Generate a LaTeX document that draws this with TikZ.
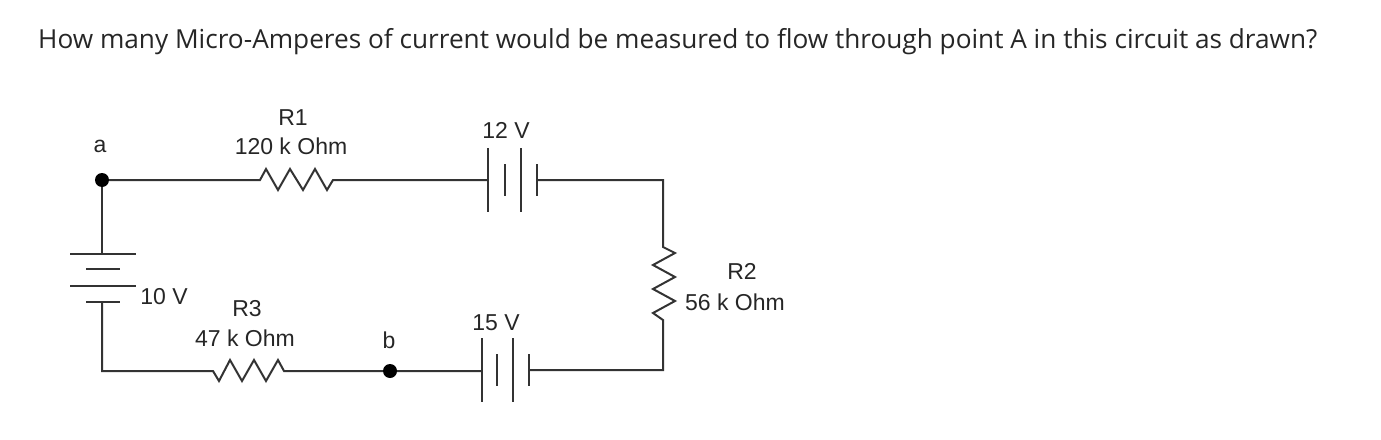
\documentclass[tikz,border=0pt]{standalone}
\usepackage{fontspec}
\setmainfont{Liberation Sans}
\newfontfamily\titlefont{Open Sans}
\begin{document}
\begin{tikzpicture}[x=1pt,y=-1pt,
  wire/.style={line width=2pt,color=black!80},
  lbl/.style={inner sep=0pt,font=\fontsize{23}{25}\selectfont,text=black!85},
  dot/.style={circle,fill=black,inner sep=0pt,minimum size=14pt}]
\useasboundingbox (0,0) rectangle (1381,439);
\node[inner sep=0pt,anchor=west,font=\titlefont\fontsize{26.2}{30}\selectfont,text=black!85] (title) at (38,42) {How many Micro-Amperes of current would be measured to flow through point A in this circuit as drawn?};
\node[dot] (a) at (102,180) {};
\node[dot] (b) at (390,371) {};
\coordinate (tr) at (663,180);
\coordinate (br) at (663,370);
\coordinate (bl) at (102,371);
% top wire with R1 and 12V
\draw[wire] (a) -- (260,180) -- (266,169) -- (278,190) -- (290,169) -- (303,190) -- (315,169) -- (327,190) -- (333,180) -- (488,180);
\draw[wire] (488,148) -- (488,212) (505,164) -- (505,196) (521,148) -- (521,212) (537,164) -- (537,196);
\draw[wire] (537,180) -- (tr) -- (663,247) -- (675,253) -- (653,265) -- (675,277) -- (653,289) -- (675,301) -- (653,313) -- (663,320) -- (br) -- (529,370);
\draw[wire] (482,338) -- (482,402) (497,354) -- (497,386) (513,338) -- (513,402) (529,354) -- (529,386);
\draw[wire] (482,371) -- (b) -- (284,371) -- (278,360) -- (266,381) -- (254,360) -- (242,381) -- (230,360) -- (219,381) -- (213,371) -- (bl) -- (102,302);
\draw[wire] (86,302) -- (120,302) (70,286) -- (136,286) (86,269) -- (120,269) (70,254) -- (136,254);
\draw[wire] (102,254) -- (a);
\node[lbl] (la) at (100,146) {a};
\node[lbl] (lr1) at (293,118) {R1};
\node[lbl] (lr1v) at (291,146) {120 k Ohm};
\node[lbl] (l12) at (506,130) {12 V};
\node[lbl] (l10) at (164,297) {10 V};
\node[lbl] (lr3) at (247,309) {R3};
\node[lbl] (lr3v) at (245,338) {47 k Ohm};
\node[lbl] (lb) at (389,340) {b};
\node[lbl] (l15) at (496,323) {15 V};
\node[lbl] (lr2) at (742,271) {R2};
\node[lbl] (lr2v) at (735,302) {56 k Ohm};
\end{tikzpicture}
\end{document}
